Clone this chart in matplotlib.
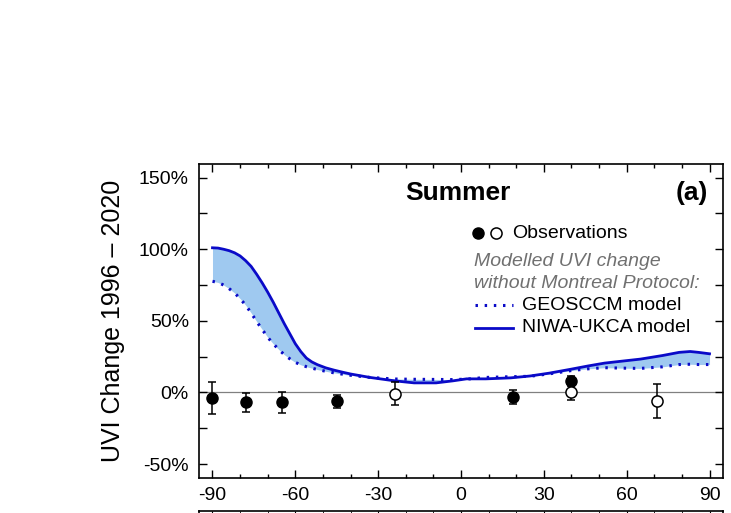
import matplotlib
matplotlib.use("Agg")
import matplotlib.pyplot as plt
from matplotlib.ticker import MultipleLocator, FuncFormatter

plt.rcParams["font.family"] = ["Liberation Sans", "DejaVu Sans"]
plt.rcParams["axes.unicode_minus"] = False

# -----------------------------
# data
# -----------------------------
lat = [-90, -88, -86, -84, -82, -80, -78, -76, -74, -72, -70, -68, -66, -64, -62,
       -60, -58, -56, -54, -52, -49, -46, -43, -40, -33, -24, -17, -9, -3, 2, 9,
       18, 25, 32, 40, 46, 52, 58, 65, 73, 79, 83, 86, 90]
niwa = [101, 100.8, 100, 99, 97.5, 95.3, 92, 88, 82.5, 76.5, 70, 63, 55.5, 48, 41,
        34, 28.5, 24, 21.3, 19.4, 17.2, 15.6, 14.2, 12.9, 10.5, 8.1, 6.7, 6.7, 8.1,
        9.5, 9.5, 10.2, 11.5, 13.5, 16.3, 18.5, 20.5, 21.8, 23.3, 25.8, 28, 28.6,
        28, 27]
geos = [77.6, 76.8, 75, 72.5, 69.5, 65.5, 61, 55.5, 49.5, 44, 38.5, 34, 30, 26.4,
        23.5, 21, 19.3, 18, 17, 16, 14.8, 13.7, 12.8, 12, 10.5, 9.4, 9.2, 9.1, 9,
        9.3, 10.5, 11, 11.3, 13, 15.3, 16.5, 17.3, 17, 16.8, 17.9, 19.5, 19.7,
        19.5, 19.5]

obs_lat_filled = [-90, -78, -65, -45, 19, 40]
obs_val_filled = [-3.7, -7, -7, -6, -3, 8.3]
obs_err_filled = [11, 6.5, 7, 4.5, 5, 3.5]

obs_lat_open = [-24, 40, 71]
obs_val_open = [-1, 0, -6]
obs_err_open = [8, 5, 11.6]

blue = "#0a0ac8"
fill_blue = "#9fc9f0"

fig = plt.figure(figsize=(7.31, 5.13), dpi=100)
ax = fig.add_axes([0.2718, 0.0688, 0.7177, 0.6121])

ax.axhline(0, color="#808080", lw=0.9, zorder=1)
ax.fill_between(lat, geos, niwa, color=fill_blue, lw=0, zorder=2)
ax.plot(lat, niwa, color=blue, lw=2.0, zorder=3)
ax.plot(lat, geos, color=blue, lw=2.2, linestyle=(0, (0.8, 2.2)), zorder=3)

ax.errorbar(obs_lat_filled, obs_val_filled, yerr=obs_err_filled, fmt="o",
            color="black", mfc="black", mec="black", ms=8, elinewidth=1.1,
            capsize=3, capthick=1.1, zorder=4)
ax.errorbar(obs_lat_open, obs_val_open, yerr=obs_err_open, fmt="o",
            color="black", mfc="white", mec="black", ms=8, mew=1.1,
            elinewidth=1.1, capsize=3, capthick=1.1, zorder=5)

ax.set_xlim(-95, 95)
ax.set_ylim(-59.5, 159.7)
ax.xaxis.set_major_locator(MultipleLocator(30))
ax.xaxis.set_minor_locator(MultipleLocator(10))
ax.yaxis.set_major_locator(MultipleLocator(50))
ax.yaxis.set_minor_locator(MultipleLocator(25))
ax.yaxis.set_major_formatter(FuncFormatter(lambda v, p: f"{v:.0f}%"))
ax.tick_params(which="both", direction="in", top=True, right=True,
               labelsize=14, width=1)
ax.tick_params(which="major", length=6)
ax.tick_params(which="minor", length=3)
ax.tick_params(axis="y", which="minor", length=6)
ax.tick_params(axis="y", pad=7)
ax.tick_params(axis="x", pad=7)
for s in ax.spines.values():
    s.set_linewidth(1.2)

ax.set_ylabel("UVI Change 1996 \u2013 2020", fontsize=18, labelpad=10)

# titles / legend drawn as text
ax.text(0.494, 0.906, "Summer", transform=ax.transAxes, fontsize=19,
        fontweight="bold", ha="center", va="center")
ax.text(0.971, 0.906, "(a)", transform=ax.transAxes, fontsize=19,
        fontweight="bold", ha="right", va="center")

ax.plot([0.533], [0.779], "o", transform=ax.transAxes, color="black", ms=8)
ax.plot([0.567], [0.779], "o", transform=ax.transAxes, mfc="white",
        mec="black", mew=1.1, ms=8)
ax.text(0.597, 0.779, "Observations", transform=ax.transAxes, fontsize=14,
        va="center")
ax.text(0.525, 0.689, "Modelled UVI change", transform=ax.transAxes,
        fontsize=14, style="italic", color="#707070", va="center")
ax.text(0.525, 0.619, "without Montreal Protocol:", transform=ax.transAxes,
        fontsize=14, style="italic", color="#707070", va="center")
ax.plot([0.527, 0.6], [0.549, 0.549], transform=ax.transAxes, color=blue,
        lw=2.2, linestyle=(0, (0.8, 2.2)))
ax.text(0.616, 0.549, "GEOSCCM model", transform=ax.transAxes, fontsize=14,
        va="center")
ax.plot([0.527, 0.6], [0.477, 0.477], transform=ax.transAxes, color=blue, lw=2.0)
ax.text(0.616, 0.477, "NIWA-UKCA model", transform=ax.transAxes, fontsize=14,
        va="center")

# next panel, only its top edge is visible
ax2 = fig.add_axes([0.2718, -0.5, 0.7177, 0.5045])
ax2.set_xlim(-95, 95)
ax2.xaxis.set_major_locator(MultipleLocator(30))
ax2.xaxis.set_minor_locator(MultipleLocator(10))
ax2.tick_params(which="both", direction="in", top=True, bottom=False,
                labelbottom=False, left=False, labelleft=False)
ax2.tick_params(which="major", length=6)
ax2.tick_params(which="minor", length=3)
for s in ax2.spines.values():
    s.set_linewidth(1.2)

plt.savefig("out.png", dpi=100)
plt.close()
